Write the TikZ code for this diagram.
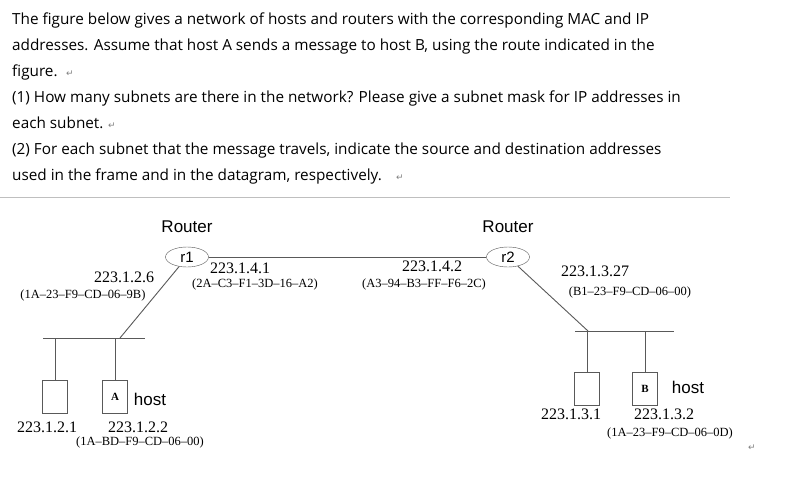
\documentclass[tikz,border=0pt]{standalone}
\usetikzlibrary{shapes.geometric}
\usepackage{fontspec}
\setmainfont{Open Sans}
\newfontfamily\ser{Liberation Serif}
\newfontfamily\ari{Liberation Sans}
\newfontfamily\dej{DejaVu Sans}
\begin{document}
\begin{tikzpicture}[x=1pt,y=-1pt,
  txt/.style={anchor=base west,inner sep=0,font=\fontsize{15.3}{15}\selectfont},
  ip/.style={inner sep=0,font=\ser\fontsize{16}{16}\selectfont},
  mac/.style={inner sep=0,font=\ser\fontsize{12.5}{12.5}\selectfont},
  lbl/.style={inner sep=0,font=\ari\fontsize{17}{17}\selectfont},
  rt/.style={draw=gray!70!black,ellipse,minimum width=43pt,minimum height=20pt,inner sep=0,font=\ari\fontsize{15}{15}\selectfont},
  hst/.style={draw=gray!70!black,minimum width=25pt,minimum height=33pt,inner sep=0,font=\ser\fontsize{11}{11}\selectfont\bfseries},
  wire/.style={draw=gray!70!black,line width=0.9pt},
  pm/.style={inner sep=0,text=gray,font=\dej\fontsize{9}{9}\selectfont}]
\useasboundingbox[fill=white] (0,0) rectangle (798,482);
\node[txt] (t1) at (12,24) {The figure below gives a network of hosts and routers with the corresponding MAC and IP};
\node[txt] (t2) at (12,50) {addresses. Assume that host A sends a message to host B, using the route indicated in the};
\node[txt] (t3) at (12,76) {figure.};
\node[pm,anchor=base west] (p3) at (66,76) {↵};
\node[txt] (t4) at (12,102) {(1) How many subnets are there in the network? Please give a subnet mask for IP addresses in};
\node[txt] (t5) at (12,128) {each subnet.};
\node[pm,anchor=base west] (p5) at (108,128) {↵};
\node[txt] (t6) at (12,154) {(2) For each subnet that the message travels, indicate the source and destination addresses};
\node[txt] (t7) at (12,180) {used in the frame and in the datagram, respectively.};
\node[pm,anchor=base west] (p7) at (396,180) {↵};
\draw[gray!50] (0,197) -- (730,197);
\coordinate (lb1) at (43,338); \coordinate (lb2) at (145,338);
\coordinate (rb1) at (575,331); \coordinate (rb2) at (674,331);
\coordinate (lj) at (120,338); \coordinate (rj) at (588,331);
\coordinate (d1) at (55,338); \coordinate (d2) at (115,338);
\coordinate (d3) at (587,331); \coordinate (d4) at (645,331);
\node[lbl] (R1) at (187,227) {Router};
\node[lbl] (R2) at (508,227) {Router};
\node[rt] (r1) at (187,257) {r1};
\node[rt] (r2) at (508,257) {r2};
\node[hst,anchor=north] (h1) at (55,380) {};
\node[hst,anchor=north] (hA) at (115,380) {A};
\node[hst,anchor=north] (h3) at (587,372) {};
\node[hst,anchor=north] (hB) at (645,372) {B};
\draw[wire] (r1) -- (r2);
\draw[wire] (r1) -- (lj);
\draw[wire] (r2) -- (rj);
\draw[wire] (lb1) -- (lb2);
\draw[wire] (rb1) -- (rb2);
\draw[wire] (d1) -- (h1); \draw[wire] (d2) -- (hA);
\draw[wire] (d3) -- (h3); \draw[wire] (d4) -- (hB);
\node[lbl] (ha) at (150,399) {host};
\node[lbl] (hb) at (688,387) {host};
\node[ip] (a1) at (124,277) {223.1.2.6};
\node[mac] (m1) at (83,295) {(1A–23–F9–CD–06–9B)};
\node[ip] (a2) at (240,268) {223.1.4.1};
\node[mac] (m2) at (255,284) {(2A–C3–F1–3D–16–A2)};
\node[ip] (a3) at (432,266) {223.1.4.2};
\node[mac] (m3) at (424,284) {(A3–94–B3–FF–F6–2C)};
\node[ip] (a4) at (595,271) {223.1.3.27};
\node[mac] (m4) at (630,292) {(B1–23–F9–CD–06–00)};
\node[ip] (a5) at (47,427) {223.1.2.1};
\node[ip] (a6) at (138,427) {223.1.2.2};
\node[mac] (m6) at (140,442) {(1A–BD–F9–CD–06–00)};
\node[ip] (a7) at (571,414) {223.1.3.1};
\node[ip] (a8) at (664,414) {223.1.3.2};
\node[mac] (m8) at (670,433) {(1A–23–F9–CD–06–0D)};
\node[pm] (p9) at (752,448) {↵};
\end{tikzpicture}
\end{document}
